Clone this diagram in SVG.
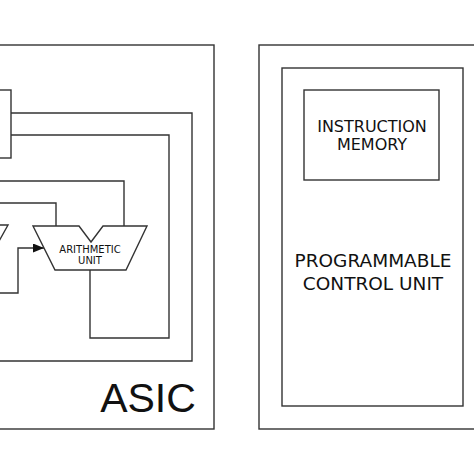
<svg xmlns="http://www.w3.org/2000/svg" width="474" height="474" viewBox="0 0 474 474">
<defs>
<style>
.b{fill:#fff;stroke:#333;stroke-width:1.4}
.w{fill:none;stroke:#333;stroke-width:1.4}
.t{font-family:"DejaVu Sans",Verdana,sans-serif;fill:#111;text-anchor:middle}
</style>
<marker id="ah" viewBox="0 0 10 10" refX="10" refY="5" markerWidth="11" markerHeight="9" markerUnits="userSpaceOnUse" orient="auto" preserveAspectRatio="none">
<path d="M0,0 L10,5 L0,10 z" fill="#111"/>
</marker>
</defs>
<rect width="474" height="474" fill="#fff"/>
<g id="asic">
<rect class="b" x="-10" y="45" width="224" height="384"/>
<text x="148" y="412" font-family="'Liberation Sans',Arial,sans-serif" font-size="41" text-anchor="middle" fill="#111">ASIC</text>
</g>
<g id="left-block">
<rect class="b" x="-10" y="90" width="21" height="68"/>
</g>
<g id="partial-unit">
<polygon class="b" points="-40,225 8,225 -2,243 -30,243"/>
</g>
<g id="connectors">
<polyline class="w" points="11,113 192,113 192,361 0,361"/>
<polyline class="w" points="11,135 169,135 169,338 90,338 90,270"/>
<polyline class="w" points="0,181 124,181 124,226"/>
<polyline class="w" points="0,203 56,203 56,226"/>
<polyline class="w" points="0,293 18,293 18,248 44,248" marker-end="url(#ah)"/>
<line class="w" x1="463" y1="101" x2="480" y2="101"/>
<line class="w" x1="463" y1="248" x2="480" y2="248"/>
<line class="w" x1="463" y1="293" x2="480" y2="293"/>
</g>
<g id="arithmetic-unit">
<polygon class="b" points="33,226 79,226 91,242 103,226 147,226 126,270 55,270"/>
<text class="t" x="90" y="253" font-size="10">ARITHMETIC</text>
<text class="t" x="90" y="264" font-size="10">UNIT</text>
</g>
<g id="outer-right">
<rect class="b" x="259" y="45" width="240" height="384"/>
</g>
<g id="programmable-control-unit">
<rect class="b" x="282" y="68" width="181" height="338"/>
<text class="t" x="373" y="267" font-size="18.5">PROGRAMMABLE</text>
<text class="t" x="373" y="290" font-size="18.5">CONTROL UNIT</text>
</g>
<g id="instruction-memory">
<rect class="b" x="304" y="90" width="135" height="90"/>
<text class="t" x="372" y="132" font-size="16">INSTRUCTION</text>
<text class="t" x="372" y="150" font-size="16">MEMORY</text>
</g>
</svg>
